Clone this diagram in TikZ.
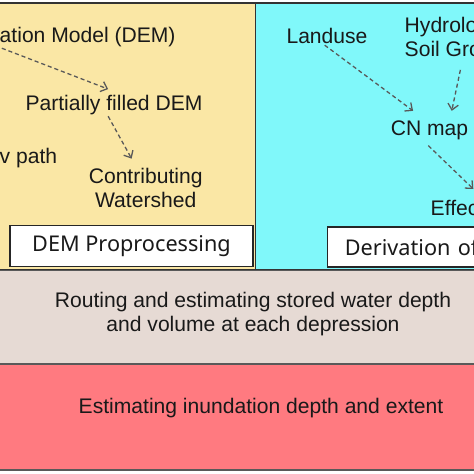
\documentclass[tikz,border=0pt]{standalone}
\usepackage{fontspec}
\setmainfont{Liberation Sans}
\newfontfamily\boxfont{Noto Sans}
\usepackage{tikz}
\usetikzlibrary{arrows.meta}

\definecolor{demyellow}{RGB}{250,231,165}
\definecolor{cncyan}{RGB}{128,248,250}
\definecolor{routegray}{RGB}{230,218,212}
\definecolor{floodred}{RGB}{255,122,128}

\begin{document}
\begin{tikzpicture}[
    panel/.style={
        draw=black!80,
        line width=1.2pt
    },
    band/.style={
        draw=black!65,
        line width=1pt
    },
    item/.style={
        text=black!90,
        align=center,
        inner sep=1pt,
        font=\fontsize{18}{20.5}\selectfont
    },
    titlebox/.style={
        rectangle,
        draw=black!85,
        line width=0.9pt,
        fill=white,
        text=black!90,
        font=\boxfont\fontsize{18.5}{21}\selectfont
    },
    flow/.style={
        ->,
        >={Straight Barb[length=5pt,width=9pt]},
        dash pattern=on 3.5pt off 2.5pt,
        draw=black!65,
        line width=1.1pt
    }
]

\useasboundingbox[fill=white] (0,0) rectangle (14.22,14.22);

% Panouri de fundal
\draw[panel, fill=demyellow] (-1,6.12) rectangle (7.67,14.13);
\draw[panel, fill=cncyan] (7.67,6.12) rectangle (15,14.13);
\draw[band, fill=routegray] (-1,3.3) rectangle (15,6.1);
\draw[band, fill=floodred] (-1,0.12) rectangle (15,3.3);

% Preprocesare DEM
\node[item, anchor=west] (dem) at (-0.05,13.11) {ation Model (DEM)};
\node[item] (pfdem) at (3.42,11.07) {Partially filled DEM};
\node[item, anchor=west] (flowpath) at (-0.05,9.48) {v path};
\node[item] (contrib) at (4.37,8.58) {Contributing\\Watershed};
\node[titlebox, minimum width=7.29cm, minimum height=1.24cm] (demproc) at (3.945,6.84) {DEM Proprocessing};

% Derivarea CN
\node[item] (landuse) at (9.81,13.14) {Landuse};
\node[item, anchor=west, align=left] (hydro) at (12.1,13.11) {Hydrolo\\Soil Gro};
\node[item] (cnmap) at (12.885,10.32) {CN map};
\node[item, anchor=west] (effec) at (12.88,7.98) {Effec};
\node[titlebox, anchor=west, text width=4.6cm, align=left, inner xsep=0.52cm, minimum height=1.2cm] (cnderiv) at (9.81,6.81) {Derivation of};
\coordinate (effin) at (14.2,8.55);

% Rutare si inundatie
\node[item] (routing) at (7.59,4.8) {Routing and estimating stored water depth\\and volume at each depression};
\node[item] (inundation) at (7.83,1.98) {Estimating inundation depth and extent};

% Sagetile
\draw[flow] ([xshift=3pt]dem.south west) -- ([xshift=-5pt,yshift=4pt]pfdem.north);
\draw[flow] ([xshift=-5pt]pfdem.south) -- ([xshift=-12pt,yshift=7pt]contrib.north);
\draw[flow] ([xshift=-2pt]landuse.south) -- ([xshift=-14pt,yshift=7pt]cnmap.north);
\draw[flow] ([xshift=15pt,yshift=-10pt]hydro.south) -- ([xshift=19pt,yshift=7pt]cnmap.north);
\draw[flow] ([xshift=-1pt,yshift=-4pt]cnmap.south) -- (effin);

\end{tikzpicture}
\end{document}
